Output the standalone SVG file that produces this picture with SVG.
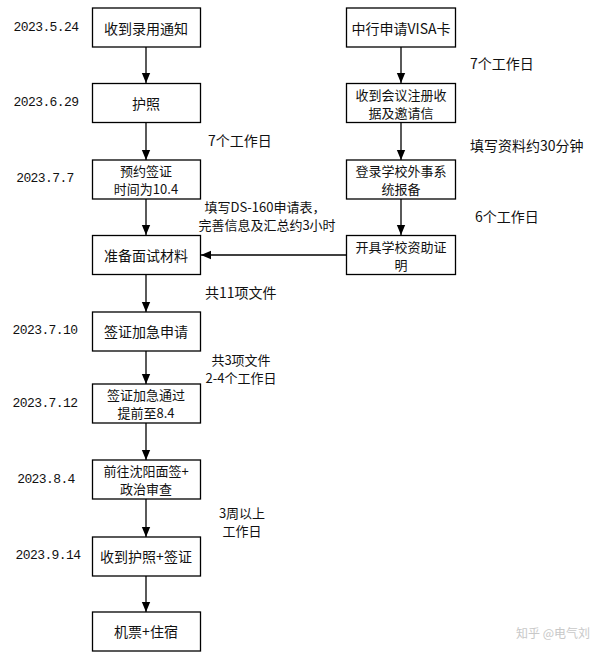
<svg xmlns="http://www.w3.org/2000/svg" width="600" height="658" viewBox="0 0 600 658">
<defs>
<marker id="arr" markerUnits="userSpaceOnUse" markerWidth="10" markerHeight="14" refX="12" refY="5" viewBox="0 0 12 10" orient="auto">
<path d="M0,0 L12,5 L0,10 Z" fill="#000"/>
</marker>
<style>
.box{fill:#fff;stroke:#000;stroke-width:1.3}
.t{font-family:"Noto Sans CJK SC","Noto Sans",sans-serif;font-size:14px;fill:#111;text-anchor:middle;dominant-baseline:central}
.t2{font-family:"Noto Sans CJK SC","Noto Sans",sans-serif;font-size:13px;fill:#111;text-anchor:middle;dominant-baseline:central}
.d{font-family:"Liberation Mono","DejaVu Sans Mono",monospace;font-size:13px;letter-spacing:-0.6px;fill:#111;text-anchor:middle;dominant-baseline:central}
.l{font-family:"Noto Sans CJK SC","Noto Sans",sans-serif;font-size:14px;fill:#111;dominant-baseline:central}
.c{stroke:#000;stroke-width:1.3;fill:none;marker-end:url(#arr)}
.wm{font-family:"Noto Sans CJK SC",sans-serif;font-size:12px;fill:#c8c8c8;dominant-baseline:central}
</style>
</defs>
<rect width="600" height="658" fill="#fff"/>
<g id="connectors">
<line class="c" x1="146" y1="47" x2="146" y2="83"/>
<line class="c" x1="146" y1="122" x2="146" y2="160"/>
<line class="c" x1="146" y1="199" x2="146" y2="235"/>
<line class="c" x1="146" y1="274" x2="146" y2="312"/>
<line class="c" x1="146" y1="351" x2="146" y2="384"/>
<line class="c" x1="146" y1="423" x2="146" y2="460"/>
<line class="c" x1="146" y1="499" x2="146" y2="537"/>
<line class="c" x1="146" y1="576" x2="146" y2="612"/>
<line class="c" x1="401" y1="47" x2="401" y2="83"/>
<line class="c" x1="401" y1="122" x2="401" y2="160"/>
<line class="c" x1="401" y1="199" x2="401" y2="235"/>
<line class="c" x1="347" y1="255" x2="201" y2="255"/>
</g>
<g id="n1"><rect class="box" x="92.5" y="8" width="108" height="39"/><text class="t" x="146" y="27.5">收到录用通知</text></g>
<g id="n2"><rect class="box" x="92.5" y="83.5" width="108" height="39"/><text class="t" x="146" y="103">护照</text></g>
<g id="n3"><rect class="box" x="92.5" y="160" width="108" height="39"/><text class="t2" x="146" y="170.5">预约签证</text><text class="t2" x="146" y="188.5">时间为10.4</text></g>
<g id="n4"><rect class="box" x="92.5" y="235.5" width="108" height="39"/><text class="t" x="146" y="255">准备面试材料</text></g>
<g id="n5"><rect class="box" x="92.5" y="312" width="108" height="39"/><text class="t" x="146" y="331">签证加急申请</text></g>
<g id="n6"><rect class="box" x="92.5" y="384" width="108" height="39"/><text class="t2" x="146" y="394.5">签证加急通过</text><text class="t2" x="146" y="412.5">提前至8.4</text></g>
<g id="n7"><rect class="box" x="92.5" y="460" width="108" height="39"/><text class="t2" x="146" y="470.5">前往沈阳面签+</text><text class="t2" x="146" y="488.5">政治审查</text></g>
<g id="n8"><rect class="box" x="92.5" y="537" width="108" height="39"/><text class="t" x="146" y="556">收到护照+签证</text></g>
<g id="n9"><rect class="box" x="92.5" y="612" width="108" height="39"/><text class="t" x="146" y="631">机票+住宿</text></g>
<g id="r1"><rect class="box" x="346.5" y="8" width="109" height="39"/><text class="t" x="401" y="27.5">中行申请VISA卡</text></g>
<g id="r2"><rect class="box" x="346.5" y="83.5" width="109" height="39"/><text class="t2" x="401" y="94">收到会议注册收</text><text class="t2" x="401" y="112">据及邀请信</text></g>
<g id="r3"><rect class="box" x="346.5" y="160" width="109" height="39"/><text class="t2" x="401" y="170.5">登录学校外事系</text><text class="t2" x="401" y="188.5">统报备</text></g>
<g id="r4"><rect class="box" x="346.5" y="235.5" width="109" height="39"/><text class="t2" x="401" y="246">开具学校资助证</text><text class="t2" x="401" y="264">明</text></g>
<g id="dates">
<text class="d" x="46" y="27">2023.5.24</text>
<text class="d" x="46" y="102">2023.6.29</text>
<text class="d" x="45" y="178">2023.7.7</text>
<text class="d" x="45" y="330">2023.7.10</text>
<text class="d" x="45" y="403">2023.7.12</text>
<text class="d" x="46" y="479">2023.8.4</text>
<text class="d" x="48" y="555">2023.9.14</text>
</g>
<g id="labels">
<text class="l" x="208" y="140">7个工作日</text>
<text class="t2" x="265" y="206">填写DS-160申请表，</text>
<text class="t2" x="267" y="224">完善信息及汇总约3小时</text>
<text class="l" x="205" y="292">共11项文件</text>
<text class="t2" x="241" y="359">共3项文件</text>
<text class="t2" x="241" y="377">2-4个工作日</text>
<text class="t2" x="242" y="512">3周以上</text>
<text class="t2" x="242" y="530">工作日</text>
<text class="l" x="470" y="63">7个工作日</text>
<text class="l" x="470" y="145">填写资料约30分钟</text>
<text class="l" x="475" y="216">6个工作日</text>
</g>
<text class="wm" x="516" y="632">知乎 @电气刘</text>
</svg>
